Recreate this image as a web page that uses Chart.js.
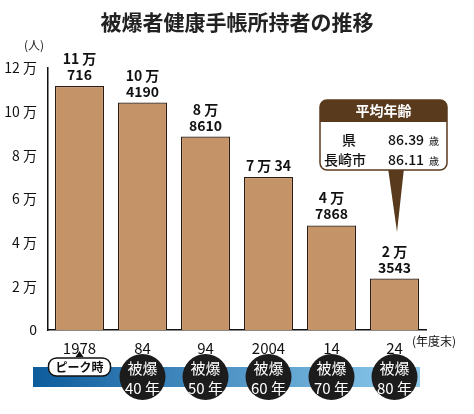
<!DOCTYPE html><html><head><meta charset="utf-8">
<script src="https://cdn.jsdelivr.net/npm/chart.js@4"></script>
<style>body{margin:0;background:#fff}#w{width:474px;height:414px}</style></head><body>
<div id="w"><canvas id="c"></canvas></div>
<script>
const categories=['1978','84','94','2004','14','24'];
const holders=[111716,104190,88610,70034,47868,23543];
const labelTop=['11 万','10 万','8 万','7 万 34','4 万','2 万'];
const labelBottom=['716','4190','8610','','7868','3543'];
const eras=['40','50','60','70','80'];
const F='"Noto Sans CJK JP","Noto Sans",sans-serif';
const deco={id:'deco',afterDraw(ch){
 const c=ch.ctx,x=ch.scales.x,y=ch.scales.y;
 c.save();c.textAlign='center';c.fillStyle='#222';
 c.font='bold 21px '+F;c.fillText('被爆者健康手帳所持者の推移',237,30);
 c.font='12px '+F;c.fillText('(人)',34,50);
 ch.getDatasetMeta(0).data.forEach((b,i)=>{
  c.font='bold 14px '+F;c.fillStyle='#111';
  if(labelBottom[i]){c.fillText(labelTop[i],b.x,b.y-22);c.fillText(labelBottom[i],b.x,b.y-6);}
  else c.fillText(labelTop[i],b.x,b.y-6);
 });
 c.font='12px '+F;c.textAlign='left';c.fillText('(年度末)',412,346);
 const g=c.createLinearGradient(33,0,420,0);g.addColorStop(0,'#0d5c9c');g.addColorStop(1,'#8fcbee');
 c.fillStyle=g;c.fillRect(33,367,387,20);
 const px=x.getPixelForValue(0);
 c.fillStyle='#fff';c.strokeStyle='#111';c.lineWidth=1.5;
 c.beginPath();c.roundRect(px-31,358,62,18,8);c.fill();c.stroke();
 c.fillStyle='#111';c.beginPath();c.moveTo(px-4,357);c.lineTo(px+4,357);c.lineTo(px,351);c.fill();
 c.textAlign='center';c.font='bold 12px '+F;c.fillText('ピーク時',px,372);
 eras.forEach((e,i)=>{const cx=x.getPixelForValue(i+1);
  c.fillStyle='#1c1c1c';c.beginPath();c.arc(cx,377,23,0,7);c.fill();
  c.fillStyle='#fff';c.font='15px '+F;c.fillText('被爆',cx,374);c.fillText(e+' 年',cx,394);});
 const bx=320,by=100,bw=127,bh=70;
 c.fillStyle='#5a3a1c';
 c.beginPath();c.moveTo(388,bh+by-2);c.lineTo(404,bh+by-2);c.lineTo(397,232);c.fill();
 c.strokeStyle='#5a3a1c';c.lineWidth=1.5;c.fillStyle='#fff';
 c.beginPath();c.roundRect(bx,by,bw,bh,7);c.fill();c.stroke();
 c.fillStyle='#5a3a1c';c.beginPath();c.roundRect(bx,by,bw,22,[7,7,0,0]);c.fill();
 c.fillStyle='#fff';c.font='bold 14px '+F;c.fillText('平均年齢',bx+bw/2,by+16);
 c.fillStyle='#111';c.font='500 14px '+F;c.textAlign='left';
 c.fillText('県',342,by+45);c.fillText('長崎市',324,by+65);
 c.fillText('86.39',388,by+45);c.fillText('86.11',388,by+65);
 c.font='10px '+F;c.fillText('歳',429,by+45);c.fillText('歳',429,by+65);
 c.restore();}};
new Chart(document.getElementById('c'),{type:'bar',
 data:{labels:categories,datasets:[{data:holders,backgroundColor:'#c49368',borderColor:'#2a1a10',borderWidth:1.2,barPercentage:0.78,categoryPercentage:1}]},
 options:{responsive:true,maintainAspectRatio:false,animation:false,
  layout:{padding:{top:68,right:48,left:0,bottom:0}},
  plugins:{legend:{display:false},tooltip:{enabled:false}},
  scales:{
   x:{grid:{display:false},border:{color:'#111',width:1.5},ticks:{color:'#111',font:{size:15,family:F},padding:1},afterFit(s){s.height=84;}},
   y:{min:0,max:120000,grid:{display:false},border:{color:'#111',width:1.5},
      ticks:{stepSize:20000,color:'#111',font:{size:14,family:F},padding:3,callback:v=>v===0?'0':(v/10000)+' 万'},afterFit(s){s.width=48;}}}},
 plugins:[deco]});
</script></body></html>
